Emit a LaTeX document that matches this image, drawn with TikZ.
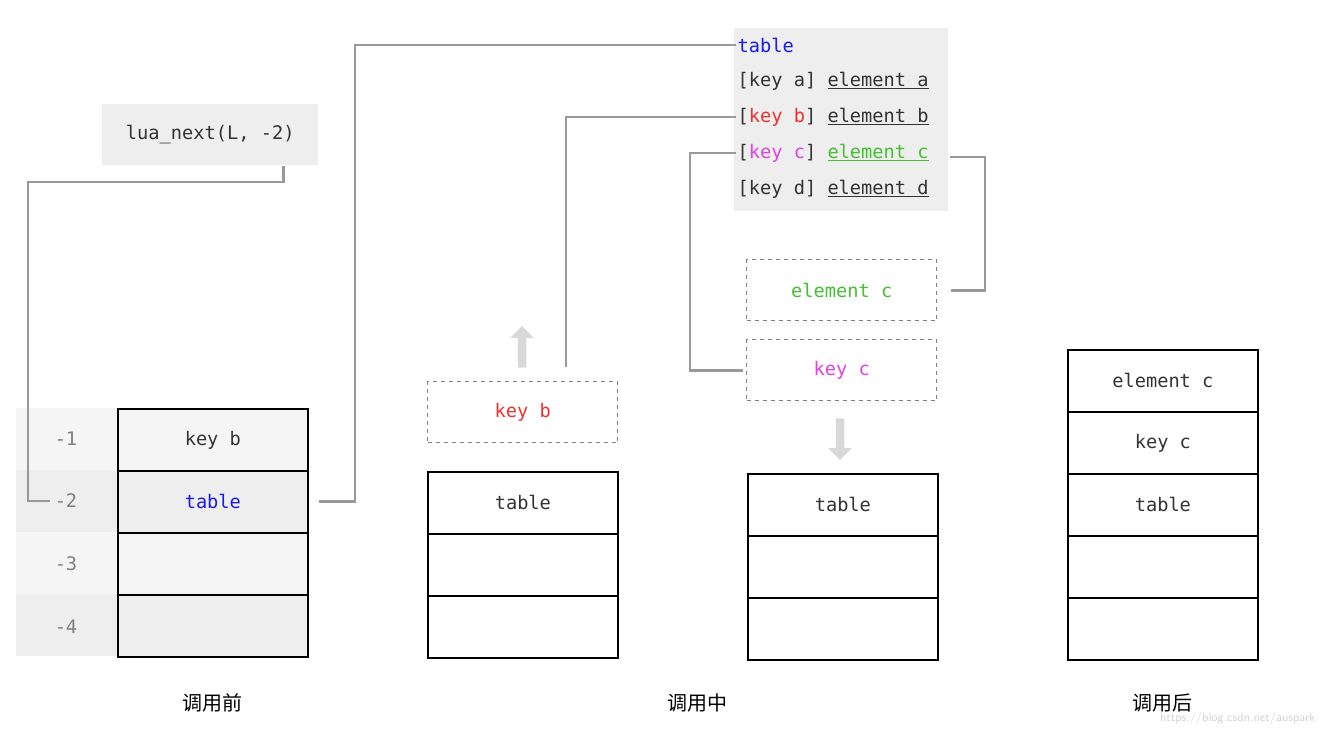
\documentclass[tikz,border=0pt]{standalone}
\usepackage{fontspec}
\setmainfont{DejaVu Sans Mono}
\newfontfamily\cjk{Noto Sans CJK SC}
\usetikzlibrary{shapes.arrows}
\definecolor{bgA}{HTML}{F5F5F5}
\definecolor{bgB}{HTML}{EEEEEE}
\definecolor{ln}{HTML}{999999}
\definecolor{tblue}{HTML}{1A1AF0}
\definecolor{tred}{HTML}{F03030}
\definecolor{tmag}{HTML}{E040E8}
\definecolor{tgreen}{HTML}{44C030}
\definecolor{txt}{HTML}{333333}
\begin{document}
\begin{tikzpicture}[x=0.75pt,y=-0.75pt,
  every node/.style={font=\fontsize{14}{16}\selectfont,text=txt},
  cell/.style={draw=black,line width=1.3pt,minimum width=142.5pt,minimum height=46.5pt,inner sep=0pt,anchor=north west},
  dcell/.style={draw=gray,dashed,line width=1pt,minimum width=142.5pt,minimum height=45.75pt,inner sep=0pt,anchor=north west},
  conn/.style={draw=ln,line width=2.2pt},
  lbl/.style={font=\cjk\fontsize{15}{17}\selectfont,text=black},
  barrow/.style={single arrow,fill=bgB!80!gray,draw=none,minimum height=31pt,single arrow head extend=4pt,minimum width=18pt,inner sep=2pt}]
\useasboundingbox (0,0) rectangle (1326,730);
% left stack bands
\fill[bgA] (16,408) rectangle (117,470);
\fill[bgB] (16,470) rectangle (117,532);
\fill[bgA] (16,532) rectangle (117,594);
\fill[bgB] (16,594) rectangle (117,656);
\node[text=gray] at (66,439) {-1};
\node[text=gray] (m2) at (66,501) {-2};
\node[text=gray] at (66,564) {-3};
\node[text=gray] at (66,627) {-4};
\node[cell,fill=bgA] (a1) at (117,408) {key b};
\node[cell,fill=bgB] (a2) at (117,470) {\textcolor{tblue}{table}};
\node[cell,fill=bgA] (a3) at (117,532) {};
\node[cell,fill=bgB] (a4) at (117,594) {};
% lua_next
\node[fill=bgB,minimum width=162pt,minimum height=45.75pt,inner sep=0pt,anchor=north west] (ln) at (102,104) {lua\_next(L, -2)};
\draw[conn] ([xshift=-26pt]ln.south east) |- (28,182) |- (m2.west);
% table box
\node[fill=bgB,minimum width=160pt,minimum height=137pt,anchor=north west,inner sep=0pt] (tb) at (734,28) {};
\node[anchor=west,inner sep=1pt] (t0) at (736,45) {\textcolor{tblue}{table}};
\node[anchor=west,inner sep=1pt] (t1) at (736,81) {[key a] \underline{element a}};
\node[anchor=west,inner sep=1pt] (t2) at (736,117) {[\textcolor{tred}{key b}] \underline{element b}};
\node[anchor=west,inner sep=1pt] (t3) at (736,153) {[\textcolor{tmag}{key c}] \textcolor{tgreen}{\underline{element c}}};
\node[anchor=west,inner sep=1pt] (t4) at (736,189) {[key d] \underline{element d}};
\draw[conn] ([xshift=8pt]a2.east) -| (355,300) |- (t0.west);
% middle 1
\node[dcell] (kb) at (427,381) {\textcolor{tred}{key b}};
\draw[conn] (566,367) |- (t2.west);
\node[barrow,rotate=90] (up) at (522,349) {};
\node[cell] (b1) at (427,471) {table};
\node[cell] (b2) at (427,533) {};
\node[cell] (b3) at (427,595) {};
% middle 2
\node[dcell] (ec) at (746,259) {\textcolor{tgreen}{element c}};
\node[dcell] (kc) at (746,339) {\textcolor{tmag}{key c}};
\draw[conn] ([xshift=10pt]ec.east) -| (985,220) |- (950,157);
\draw[conn] ([xshift=-2pt]kc.west) -| (690,250) |- (t3.west);
\node[barrow,rotate=-90] (dn) at (840,437) {};
\node[cell] (c1) at (747,473) {table};
\node[cell] (c2) at (747,535) {};
\node[cell] (c3) at (747,597) {};
% right
\node[cell] (d1) at (1067,349) {element c};
\node[cell] (d2) at (1067,411) {key c};
\node[cell] (d3) at (1067,473) {table};
\node[cell] (d4) at (1067,535) {};
\node[cell] (d5) at (1067,597) {};
% labels
\node[lbl] at (212,703) {调用前};
\node[lbl] at (697,703) {调用中};
\node[lbl] at (1162,703) {调用后};
\node[font=\fontfamily{}\sffamily\fontsize{9}{10}\selectfont,text=gray!35,anchor=east] at (1320,718) {https://blog.csdn.net/auspark};
\end{tikzpicture}
\end{document}
